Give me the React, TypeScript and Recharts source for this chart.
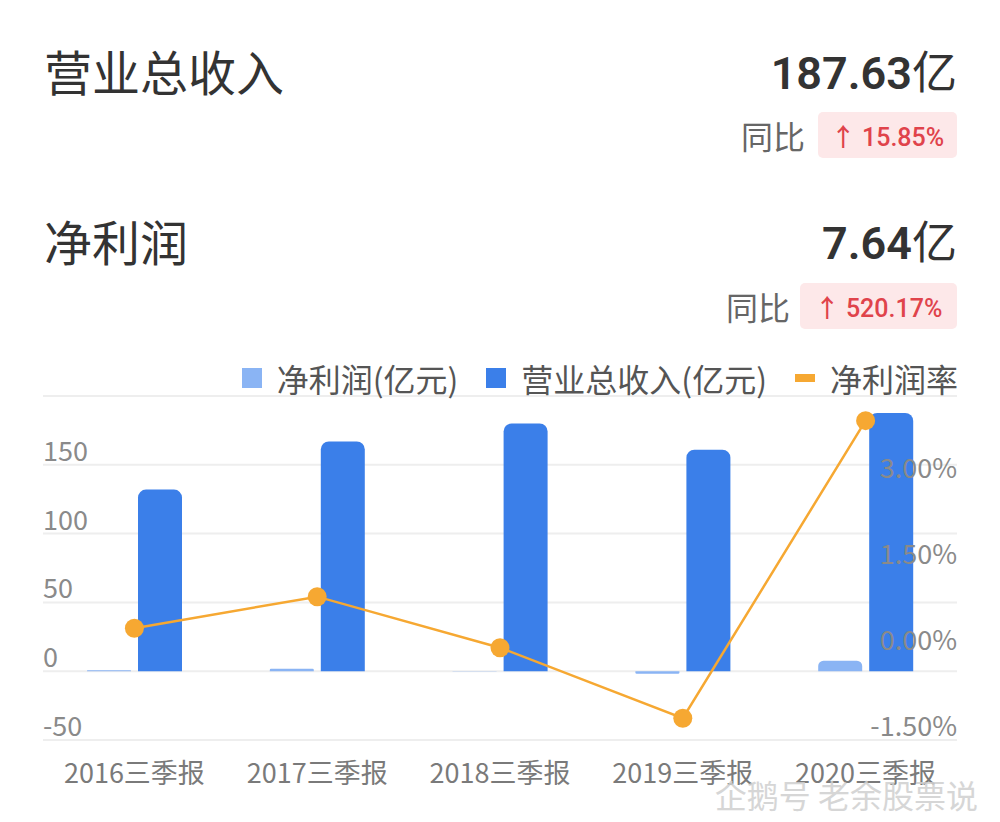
import React from "react";
import {
  ComposedChart,
  Bar,
  Line,
  XAxis,
  YAxis,
  CartesianGrid,
  Legend,
} from "recharts";

const categories = ["2016三季报", "2017三季报", "2018三季报", "2019三季报", "2020三季报"];
const netProfit = [0.6, 1.7, 0.2, -1.8, 7.64]; // 亿元
const revenue = [132, 167, 180, 161, 187.63]; // 亿元
const netMargin = [0.45, 1.0, 0.11, -1.12, 4.07]; // %

const leftTicks = [-50, 0, 50, 100, 150, 200];
const rightTicks = [-1.5, 0, 1.5, 3.0];

const LIGHT = "#8AB4F4";
const DARK = "#3B7FE9";
const ORANGE = "#F6A832";
const FONT = "'Noto Sans CJK SC', 'Noto Sans', sans-serif";

const data = categories.map((name, i) => ({
  name,
  profit: netProfit[i],
  revenue: revenue[i],
  margin: netMargin[i],
}));

const legendItems = [
  { label: "净利润(亿元)", color: LIGHT, kind: "square" },
  { label: "营业总收入(亿元)", color: DARK, kind: "square" },
  { label: "净利润率", color: ORANGE, kind: "line" },
];

function LegendContent() {
  return (
    <div
      style={{
        height: 36,
        display: "flex",
        justifyContent: "flex-end",
        alignItems: "center",
        fontFamily: FONT,
        fontSize: 32,
        color: "#555",
      }}
    >
      {legendItems.map((it, i) => (
        <div key={it.label} style={{ display: "flex", alignItems: "center", marginLeft: i === 0 ? 0 : 28 }}>
          <span
            style={{
              display: "inline-block",
              width: 20,
              height: it.kind === "square" ? 20 : 8,
              background: it.color,
              marginRight: 15,
            }}
          />
          <span>{it.label}</span>
        </div>
      ))}
    </div>
  );
}

const LeftTick = (props: any) => {
  const { y, payload } = props;
  if (payload.value === 200) return <g />;
  return (
    <text x={43} y={y - 4} textAnchor="start" fontSize={27} fill="#8a8a8a" fontFamily={FONT}>
      {payload.value}
    </text>
  );
};

const RightTick = (props: any) => {
  const { y, payload } = props;
  return (
    <text x={957} y={y - 4} textAnchor="end" fontSize={27} fill="#8a8a8a" fontFamily={FONT}>
      {Number(payload.value).toFixed(2) + "%"}
    </text>
  );
};

const XTick = (props: any) => {
  const { x, y, payload } = props;
  return (
    <text x={x} y={y} dy={35} textAnchor="middle" fontSize={27} fill="#7a7a7a" fontFamily={FONT}>
      {payload.value}
    </text>
  );
};

function Badge({ text, right, top, width }: { text: string; right: number; top: number; width: number }) {
  return (
    <div
      style={{
        position: "absolute",
        right,
        top,
        width,
        height: 46,
        background: "#FDE8E9",
        borderRadius: 5,
        color: "#E0434B",
        fontSize: 25,
        fontWeight: 500,
        display: "flex",
        alignItems: "center",
        justifyContent: "center",
        fontFamily: "Roboto, " + FONT,
      }}
    >
      {text}
    </div>
  );
}

export default function App() {
  return (
    <div
      style={{
        position: "absolute",
        left: 0,
        top: 0,
        width: 1000,
        height: 822,
        background: "#fff",
        fontFamily: FONT,
        overflow: "hidden",
      }}
    >
      {/* header */}
      <div style={{ position: "absolute", left: 44, top: 40, fontSize: 48, color: "#333", lineHeight: "60px" }}>
        营业总收入
      </div>
      <div
        style={{
          position: "absolute",
          right: 43,
          top: 40,
          fontSize: 45,
          fontWeight: 600,
          color: "#333",
          lineHeight: "60px",
          fontFamily: "Roboto, " + FONT,
        }}
      >
        187.63<span style={{ fontWeight: 400, fontFamily: FONT }}>亿</span>
      </div>
      <div style={{ position: "absolute", right: 195, top: 112, fontSize: 32, color: "#666", lineHeight: "46px" }}>
        同比
      </div>
      <Badge text="↑ 15.85%" right={43} top={112} width={139} />

      <div style={{ position: "absolute", left: 44, top: 210, fontSize: 48, color: "#333", lineHeight: "60px" }}>
        净利润
      </div>
      <div
        style={{
          position: "absolute",
          right: 43,
          top: 210,
          fontSize: 45,
          fontWeight: 600,
          color: "#333",
          lineHeight: "60px",
          fontFamily: "Roboto, " + FONT,
        }}
      >
        7.64<span style={{ fontWeight: 400, fontFamily: FONT }}>亿</span>
      </div>
      <div style={{ position: "absolute", right: 210, top: 283, fontSize: 32, color: "#666", lineHeight: "46px" }}>
        同比
      </div>
      <Badge text="↑ 520.17%" right={43} top={283} width={157} />

      {/* chart */}
      <div style={{ position: "absolute", left: 0, top: 350 }}>
        <ComposedChart
          width={1000}
          height={472}
          data={data}
          margin={{ top: 10, right: 42, left: 42, bottom: 22 }}
          barSize={44}
          barGap={7}
        >
          <Legend verticalAlign="top" align="right" content={() => <LegendContent />} />
          <CartesianGrid yAxisId="left" vertical={false} stroke="#eeeeee" strokeWidth={2} />
          <XAxis
            dataKey="name"
            axisLine={false}
            tickLine={false}
            height={60}
            interval={0}
            tick={<XTick />}
          />
          <YAxis
            yAxisId="left"
            width={1}
            domain={[-50, 200]}
            ticks={leftTicks}
            interval={0}
            axisLine={false}
            tickLine={false}
            tick={<LeftTick />}
          />
          <YAxis
            yAxisId="right"
            orientation="right"
            width={1}
            domain={[-1.5, 4.5]}
            ticks={rightTicks}
            interval={0}
            axisLine={false}
            tickLine={false}
            tick={<RightTick />}
          />
          <Bar yAxisId="left" dataKey="profit" name="净利润(亿元)" fill={LIGHT} radius={[8, 8, 0, 0]} isAnimationActive={false} />
          <Bar yAxisId="left" dataKey="revenue" name="营业总收入(亿元)" fill={DARK} radius={[8, 8, 0, 0]} isAnimationActive={false} />
          <Line
            yAxisId="right"
            dataKey="margin"
            name="净利润率"
            type="linear"
            stroke={ORANGE}
            strokeWidth={2.5}
            dot={{ r: 9.5, fill: ORANGE, stroke: "none" }}
            activeDot={false}
            isAnimationActive={false}
          />
        </ComposedChart>
      </div>

      {/* watermark */}
      <div
        style={{
          position: "absolute",
          right: 22,
          top: 772,
          fontSize: 32,
          color: "#d0d0d0",
          opacity: 0.85,
          lineHeight: "44px",
        }}
      >
        企鹅号 老余股票说
      </div>
    </div>
  );
}
